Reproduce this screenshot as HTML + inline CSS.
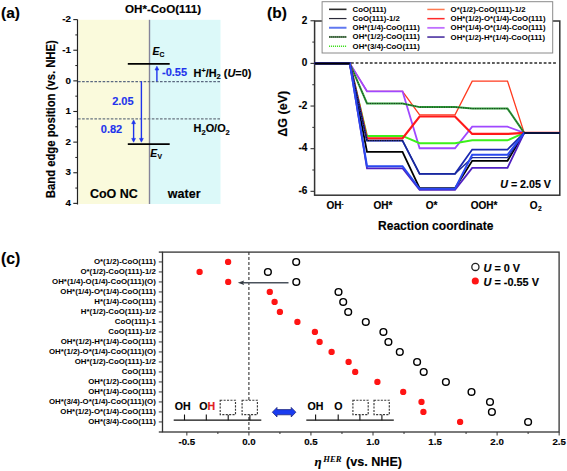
<!DOCTYPE html>
<html><head><meta charset="utf-8"><style>
html,body{margin:0;padding:0;background:#fff;width:567px;height:471px;overflow:hidden}
svg{display:block}
text{stroke-width:0.15px}
</style></head><body>
<svg width="567" height="471" viewBox="0 0 567 471">
<text stroke="#000" x="1.00" y="17.60" font-size="15.5" text-anchor="start" font-weight="bold" fill="#000" font-family='"Liberation Sans", sans-serif'  >(a)</text>
<text stroke="#000" x="163.00" y="12.80" font-size="11.6" text-anchor="middle" font-weight="bold" fill="#000" font-family='"Liberation Sans", sans-serif'  >OH*-CoO(111)</text>
<rect x="78.50" y="19.80" width="70.80" height="184.20" fill="#fafadc" stroke="none" stroke-width="1" />
<rect x="149.30" y="19.80" width="71.20" height="184.20" fill="#dcf9f9" stroke="none" stroke-width="1" />
<line x1="149.50" y1="19.80" x2="149.50" y2="204.00" stroke="#84849a" stroke-width="1.4" />
<line x1="77.50" y1="19.50" x2="77.50" y2="204.50" stroke="#222" stroke-width="1.2" />
<line x1="73.30" y1="19.60" x2="77.50" y2="19.60" stroke="#222" stroke-width="1.1" />
<text stroke="#000" x="71.00" y="22.30" font-size="9.8" text-anchor="end" font-weight="bold" fill="#000" font-family='"Liberation Sans", sans-serif'  >-2</text>
<line x1="75.30" y1="34.91" x2="77.50" y2="34.91" stroke="#222" stroke-width="1" />
<line x1="73.30" y1="50.23" x2="77.50" y2="50.23" stroke="#222" stroke-width="1.1" />
<text stroke="#000" x="71.00" y="52.93" font-size="9.8" text-anchor="end" font-weight="bold" fill="#000" font-family='"Liberation Sans", sans-serif'  >-1</text>
<line x1="75.30" y1="65.55" x2="77.50" y2="65.55" stroke="#222" stroke-width="1" />
<line x1="73.30" y1="80.86" x2="77.50" y2="80.86" stroke="#222" stroke-width="1.1" />
<text stroke="#000" x="71.00" y="83.56" font-size="9.8" text-anchor="end" font-weight="bold" fill="#000" font-family='"Liberation Sans", sans-serif'  >0</text>
<line x1="75.30" y1="96.17" x2="77.50" y2="96.17" stroke="#222" stroke-width="1" />
<line x1="73.30" y1="111.49" x2="77.50" y2="111.49" stroke="#222" stroke-width="1.1" />
<text stroke="#000" x="71.00" y="114.19" font-size="9.8" text-anchor="end" font-weight="bold" fill="#000" font-family='"Liberation Sans", sans-serif'  >1</text>
<line x1="75.30" y1="126.81" x2="77.50" y2="126.81" stroke="#222" stroke-width="1" />
<line x1="73.30" y1="142.12" x2="77.50" y2="142.12" stroke="#222" stroke-width="1.1" />
<text stroke="#000" x="71.00" y="144.82" font-size="9.8" text-anchor="end" font-weight="bold" fill="#000" font-family='"Liberation Sans", sans-serif'  >2</text>
<line x1="75.30" y1="157.44" x2="77.50" y2="157.44" stroke="#222" stroke-width="1" />
<line x1="73.30" y1="172.75" x2="77.50" y2="172.75" stroke="#222" stroke-width="1.1" />
<text stroke="#000" x="71.00" y="175.45" font-size="9.8" text-anchor="end" font-weight="bold" fill="#000" font-family='"Liberation Sans", sans-serif'  >3</text>
<line x1="75.30" y1="188.06" x2="77.50" y2="188.06" stroke="#222" stroke-width="1" />
<line x1="73.30" y1="203.38" x2="77.50" y2="203.38" stroke="#222" stroke-width="1.1" />
<text stroke="#000" x="71.00" y="206.08" font-size="9.8" text-anchor="end" font-weight="bold" fill="#000" font-family='"Liberation Sans", sans-serif'  >4</text>
<text stroke="#000" transform="translate(55.3,119.2) rotate(-90) scale(1,1.06)" x="0" y="0" font-size="11.3" text-anchor="middle" font-weight="bold" font-family='"Liberation Sans", sans-serif'>Band edge position (vs. NHE)</text>
<line x1="78.00" y1="81.60" x2="220.50" y2="81.60" stroke="#5a6880" stroke-width="1.4" stroke-dasharray="2.6,1.5"/>
<line x1="78.00" y1="118.90" x2="220.50" y2="118.90" stroke="#687480" stroke-width="1.4" stroke-dasharray="2.6,1.5"/>
<line x1="127.80" y1="63.90" x2="169.70" y2="63.90" stroke="#000" stroke-width="1.8" />
<line x1="127.80" y1="144.10" x2="169.70" y2="144.10" stroke="#000" stroke-width="1.8" />
<text stroke="#000" x="152.4" y="54.6" font-size="10.3" font-weight="bold" font-family='"Liberation Sans", sans-serif' font-style="italic">E<tspan font-size="6.8" font-style="normal" dy="2.2" dx="0.2">C</tspan></text>
<text stroke="#000" x="150.3" y="157.0" font-size="10.3" font-weight="bold" font-family='"Liberation Sans", sans-serif' font-style="italic">E<tspan font-size="6.8" font-style="normal" dy="2.2" dx="0.2">V</tspan></text>
<line x1="156.90" y1="81.30" x2="156.90" y2="68.00" stroke="#1e34ec" stroke-width="1.4" />
<path d="M155.00,70.00 L156.90,66.20 L158.80,70.00 Z" fill="#1e34ec" stroke="#1e34ec" stroke-width="0.6"/>
<line x1="141.40" y1="81.30" x2="141.40" y2="140.00" stroke="#1e34ec" stroke-width="1.4" />
<path d="M139.50,138.40 L141.40,142.20 L143.30,138.40 Z" fill="#1e34ec" stroke="#1e34ec" stroke-width="0.6"/>
<line x1="133.60" y1="122.00" x2="133.60" y2="140.00" stroke="#1e34ec" stroke-width="1.4" />
<path d="M131.70,123.70 L133.60,119.90 L135.50,123.70 Z" fill="#1e34ec" stroke="#1e34ec" stroke-width="0.6"/>
<path d="M131.70,138.40 L133.60,142.20 L135.50,138.40 Z" fill="#1e34ec" stroke="#1e34ec" stroke-width="0.6"/>
<text stroke="#1e34ec" x="162.00" y="76.00" font-size="11" text-anchor="start" font-weight="bold" fill="#1e34ec" font-family='"Liberation Sans", sans-serif'  >-0.55</text>
<text stroke="#1e34ec" x="112.20" y="105.20" font-size="11" text-anchor="start" font-weight="bold" fill="#1e34ec" font-family='"Liberation Sans", sans-serif'  >2.05</text>
<text stroke="#1e34ec" x="100.80" y="133.20" font-size="11" text-anchor="start" font-weight="bold" fill="#1e34ec" font-family='"Liberation Sans", sans-serif'  >0.82</text>
<text stroke="#000" x="193.6" y="76.6" font-size="10.9" font-family='"Liberation Sans", sans-serif' font-weight="bold">H<tspan font-size="7.2" dy="-4">+</tspan><tspan dy="4">/H</tspan><tspan font-size="7.5" dy="2.8">2</tspan><tspan dy="-2.8"> (</tspan><tspan font-style="italic">U</tspan>=0)</text>
<text stroke="#000" x="193.6" y="131.9" font-size="10.9" font-family='"Liberation Sans", sans-serif' font-weight="bold">H<tspan font-size="7.5" dy="2.8">2</tspan><tspan dy="-2.8">O/O</tspan><tspan font-size="7.5" dy="2.8">2</tspan></text>
<text stroke="#000" x="113.90" y="197.60" font-size="12.5" text-anchor="middle" font-weight="bold" fill="#000" font-family='"Liberation Sans", sans-serif'  >CoO NC</text>
<text stroke="#000" x="184.20" y="197.60" font-size="12.5" text-anchor="middle" font-weight="bold" fill="#000" font-family='"Liberation Sans", sans-serif'  >water</text>
<text stroke="#000" x="267.00" y="17.80" font-size="15.5" text-anchor="start" font-weight="bold" fill="#000" font-family='"Liberation Sans", sans-serif'  >(b)</text>
<rect x="314.60" y="21.00" width="245.20" height="174.20" fill="none" stroke="#333" stroke-width="1.5" />
<line x1="310.50" y1="20.76" x2="314.60" y2="20.76" stroke="#333" stroke-width="1.1" />
<text stroke="#000" x="307.40" y="23.56" font-size="10" text-anchor="end" font-weight="bold" fill="#000" font-family='"Liberation Sans", sans-serif'  >2</text>
<line x1="310.50" y1="63.40" x2="314.60" y2="63.40" stroke="#333" stroke-width="1.1" />
<text stroke="#000" x="307.40" y="66.20" font-size="10" text-anchor="end" font-weight="bold" fill="#000" font-family='"Liberation Sans", sans-serif'  >0</text>
<line x1="310.50" y1="106.04" x2="314.60" y2="106.04" stroke="#333" stroke-width="1.1" />
<text stroke="#000" x="307.40" y="108.84" font-size="10" text-anchor="end" font-weight="bold" fill="#000" font-family='"Liberation Sans", sans-serif'  >-2</text>
<line x1="310.50" y1="148.68" x2="314.60" y2="148.68" stroke="#333" stroke-width="1.1" />
<text stroke="#000" x="307.40" y="151.48" font-size="10" text-anchor="end" font-weight="bold" fill="#000" font-family='"Liberation Sans", sans-serif'  >-4</text>
<line x1="310.50" y1="191.32" x2="314.60" y2="191.32" stroke="#333" stroke-width="1.1" />
<text stroke="#000" x="307.40" y="194.12" font-size="10" text-anchor="end" font-weight="bold" fill="#000" font-family='"Liberation Sans", sans-serif'  >-6</text>
<line x1="312.30" y1="42.08" x2="314.60" y2="42.08" stroke="#333" stroke-width="1" />
<line x1="312.30" y1="84.72" x2="314.60" y2="84.72" stroke="#333" stroke-width="1" />
<line x1="312.30" y1="127.36" x2="314.60" y2="127.36" stroke="#333" stroke-width="1" />
<line x1="312.30" y1="170.00" x2="314.60" y2="170.00" stroke="#333" stroke-width="1" />
<text stroke="#000" transform="translate(286.5,113.8) rotate(-90)" x="0" y="0" font-size="12.6" text-anchor="middle" font-weight="bold" font-family='"Liberation Sans", sans-serif'>ΔG (eV)</text>
<line x1="351.00" y1="62.90" x2="556.80" y2="62.90" stroke="#2a2a2a" stroke-width="1.5" stroke-dasharray="2.8,1.9"/>
<polyline points="314.60,63.40 349.80,63.40 367.00,91.33 402.50,91.33 419.60,114.78 455.00,114.78 472.20,81.10 507.50,81.10 524.20,132.90 559.80,132.90" fill="none" stroke="#ff3a1e" stroke-width="1.3" stroke-linejoin="miter" />
<polyline points="314.60,63.40 349.80,63.40 367.00,91.33 402.50,91.33 419.60,148.25 455.00,148.25 472.20,126.72 507.50,126.72 524.20,132.90 559.80,132.90" fill="none" stroke="#a048ff" stroke-width="1.8" stroke-linejoin="miter" />
<polyline points="314.60,63.40 349.80,63.40 367.00,103.48 402.50,103.48 419.60,107.11 455.00,107.11 472.20,108.60 507.50,108.60 524.20,132.90 559.80,132.90" fill="none" stroke="#2ea03a" stroke-width="2.0" stroke-linejoin="miter" />
<polyline points="314.60,63.40 349.80,63.40 367.00,103.48 402.50,103.48 419.60,107.11 455.00,107.11 472.20,108.60 507.50,108.60 524.20,132.90 559.80,132.90" fill="none" stroke="#1a2a1a" stroke-width="0.9" stroke-linejoin="miter" stroke-dasharray="1.2,1.2"/>
<polyline points="314.60,63.40 349.80,63.40 367.00,135.89 402.50,135.89 419.60,143.14 455.00,143.14 472.20,140.37 507.50,140.37 524.20,132.90 559.80,132.90" fill="none" stroke="#3cf01a" stroke-width="2.0" stroke-linejoin="miter" />
<polyline points="314.60,63.40 349.80,63.40 367.00,138.45 402.50,138.45 419.60,116.49 455.00,116.49 472.20,133.97 507.50,133.97 524.20,132.90 559.80,132.90" fill="none" stroke="#ff1a1a" stroke-width="2.2" stroke-linejoin="miter" />
<polyline points="314.60,63.40 349.80,63.40 367.00,151.88 402.50,151.88 419.60,188.12 455.00,188.12 472.20,160.83 507.50,160.83 524.20,132.90 559.80,132.90" fill="none" stroke="#000000" stroke-width="1.8" stroke-linejoin="miter" />
<polyline points="314.60,63.40 349.80,63.40 367.00,140.58 402.50,140.58 419.60,173.84 455.00,173.84 472.20,149.53 507.50,149.53 524.20,132.90 559.80,132.90" fill="none" stroke="#1a28b0" stroke-width="1.8" stroke-linejoin="miter" />
<polyline points="314.60,63.40 349.80,63.40 367.00,140.58 402.50,140.58 419.60,173.84 455.00,173.84 472.20,157.63 507.50,157.63 524.20,132.90 559.80,132.90" fill="none" stroke="#1a2a9a" stroke-width="1.4" stroke-linejoin="miter" />
<polyline points="314.60,63.40 349.80,63.40 367.00,140.58 402.50,140.58" fill="none" stroke="#111111" stroke-width="1.0" stroke-linejoin="miter" stroke-dasharray="1.2,1.2"/>
<polyline points="314.60,63.40 349.80,63.40 367.00,168.29 402.50,168.29 419.60,189.83 455.00,189.83 472.20,167.87 507.50,167.87 524.20,132.90 559.80,132.90" fill="none" stroke="#5020c0" stroke-width="1.8" stroke-linejoin="miter" />
<polyline points="314.60,63.40 349.80,63.40 367.00,166.16 402.50,166.16 419.60,188.76 455.00,188.76 472.20,154.86 507.50,154.86 524.20,132.90 559.80,132.90" fill="none" stroke="#2a48f0" stroke-width="2.0" stroke-linejoin="miter" />
<line x1="314.60" y1="63.40" x2="349.80" y2="63.40" stroke="#000" stroke-width="2" />
<line x1="524.20" y1="132.90" x2="559.80" y2="132.90" stroke="#000" stroke-width="1.5" />
<rect x="322.10" y="1.70" width="230.60" height="51.30" fill="#fff" stroke="#8a8a8a" stroke-width="1" />
<line x1="329.00" y1="9.35" x2="346.50" y2="9.35" stroke="#2a2a2a" stroke-width="1.6" />
<text x="352.60" y="11.85" font-size="7.8" text-anchor="start" font-weight="bold" fill="#000" font-family='"Liberation Sans", sans-serif'  >CoO(111)</text>
<line x1="329.00" y1="18.55" x2="346.50" y2="18.55" stroke="#2a2a3a" stroke-width="1.2" />
<text x="352.60" y="21.05" font-size="7.8" text-anchor="start" font-weight="bold" fill="#000" font-family='"Liberation Sans", sans-serif'  >CoO(111)-1/2</text>
<line x1="329.00" y1="27.75" x2="346.50" y2="27.75" stroke="#6078f0" stroke-width="2.0" />
<text x="352.60" y="30.25" font-size="7.8" text-anchor="start" font-weight="bold" fill="#000" font-family='"Liberation Sans", sans-serif'  >OH*(1/4)-CoO(111)</text>
<line x1="329.00" y1="36.95" x2="346.50" y2="36.95" stroke="#5e8a5e" stroke-width="2.0" />
<line x1="329.00" y1="36.95" x2="346.50" y2="36.95" stroke="#2a3a2a" stroke-width="1.0" stroke-dasharray="1,1"/>
<text x="352.60" y="39.45" font-size="7.8" text-anchor="start" font-weight="bold" fill="#000" font-family='"Liberation Sans", sans-serif'  >OH*(1/2)-CoO(111)</text>
<line x1="329.00" y1="46.15" x2="346.50" y2="46.15" stroke="#40e020" stroke-width="1.5" stroke-dasharray="1.1,0.9"/>
<text x="352.60" y="48.65" font-size="7.8" text-anchor="start" font-weight="bold" fill="#000" font-family='"Liberation Sans", sans-serif'  >OH*(3/4)-CoO(111)</text>
<line x1="427.30" y1="9.45" x2="444.60" y2="9.45" stroke="#ff7a50" stroke-width="1.5" />
<text x="450.60" y="11.95" font-size="7.8" text-anchor="start" font-weight="bold" fill="#000" font-family='"Liberation Sans", sans-serif'  >O*(1/2)-CoO(111)-1/2</text>
<line x1="427.30" y1="18.65" x2="444.60" y2="18.65" stroke="#ff2a2a" stroke-width="1.5" />
<text x="450.60" y="21.15" font-size="7.8" text-anchor="start" font-weight="bold" fill="#000" font-family='"Liberation Sans", sans-serif'  >OH*(1/2)-O*(1/4)-CoO(111)</text>
<line x1="427.30" y1="27.85" x2="444.60" y2="27.85" stroke="#c070ff" stroke-width="1.8" />
<text x="450.60" y="30.35" font-size="7.8" text-anchor="start" font-weight="bold" fill="#000" font-family='"Liberation Sans", sans-serif'  >OH*(1/4)-O*(1/4)-CoO(111)</text>
<line x1="427.30" y1="37.05" x2="444.60" y2="37.05" stroke="#4a30a0" stroke-width="1.6" />
<text x="450.60" y="39.55" font-size="7.8" text-anchor="start" font-weight="bold" fill="#000" font-family='"Liberation Sans", sans-serif'  >OH*(1/2)-H*(1/4)-CoO(111)</text>
<text stroke="#000" x="500.2" y="187.6" font-size="10.7" font-weight="bold" font-family='"Liberation Sans", sans-serif'><tspan font-style="italic">U</tspan> = 2.05 V</text>
<text stroke="#000" x="335" y="209.3" font-size="10" text-anchor="middle" font-weight="bold" font-family='"Liberation Sans", sans-serif'>OH<tspan font-size="6" dy="-3">-</tspan></text>
<text stroke="#000" x="383" y="209.3" font-size="10" text-anchor="middle" font-weight="bold" font-family='"Liberation Sans", sans-serif'>OH*</text>
<text stroke="#000" x="431.6" y="209.3" font-size="10" text-anchor="middle" font-weight="bold" font-family='"Liberation Sans", sans-serif'>O*</text>
<text stroke="#000" x="484" y="209.3" font-size="10" text-anchor="middle" font-weight="bold" font-family='"Liberation Sans", sans-serif'>OOH*</text>
<text stroke="#000" x="535.8" y="209.3" font-size="10" text-anchor="middle" font-weight="bold" font-family='"Liberation Sans", sans-serif'>O<tspan font-size="6.6" dy="2.0" dx="0.4">2</tspan></text>
<text stroke="#000" x="435.80" y="230.00" font-size="12" text-anchor="middle" font-weight="bold" fill="#000" font-family='"Liberation Sans", sans-serif'  >Reaction coordinate</text>
<text stroke="#000" x="1.00" y="263.80" font-size="15.8" text-anchor="start" font-weight="bold" fill="#000" font-family='"Liberation Sans", sans-serif'  >(c)</text>
<rect x="162.50" y="252.10" width="396.60" height="179.90" fill="none" stroke="#333" stroke-width="1.3" />
<line x1="158.80" y1="252.10" x2="162.50" y2="252.10" stroke="#333" stroke-width="1.3" />
<line x1="158.80" y1="432.00" x2="162.50" y2="432.00" stroke="#333" stroke-width="1.3" />
<line x1="158.80" y1="261.95" x2="162.50" y2="261.95" stroke="#333" stroke-width="1" />
<text x="155.80" y="264.15" font-size="7.85" text-anchor="end" font-weight="bold" fill="#000" font-family='"Liberation Sans", sans-serif'  >O*(1/2)-CoO(111)</text>
<line x1="158.80" y1="271.95" x2="162.50" y2="271.95" stroke="#333" stroke-width="1" />
<text x="155.80" y="274.15" font-size="7.85" text-anchor="end" font-weight="bold" fill="#000" font-family='"Liberation Sans", sans-serif'  >O*(1/2)-CoO(111)-1/2</text>
<line x1="158.80" y1="281.95" x2="162.50" y2="281.95" stroke="#333" stroke-width="1" />
<text x="155.80" y="284.15" font-size="7.85" text-anchor="end" font-weight="bold" fill="#000" font-family='"Liberation Sans", sans-serif'  >OH*(1/4)-O(1/4)-CoO(111)(O)</text>
<line x1="158.80" y1="291.95" x2="162.50" y2="291.95" stroke="#333" stroke-width="1" />
<text x="155.80" y="294.15" font-size="7.85" text-anchor="end" font-weight="bold" fill="#000" font-family='"Liberation Sans", sans-serif'  >OH*(1/4)-O*(1/4)-CoO(111)</text>
<line x1="158.80" y1="301.95" x2="162.50" y2="301.95" stroke="#333" stroke-width="1" />
<text x="155.80" y="304.15" font-size="7.85" text-anchor="end" font-weight="bold" fill="#000" font-family='"Liberation Sans", sans-serif'  >H*(1/4)-CoO(111)</text>
<line x1="158.80" y1="311.95" x2="162.50" y2="311.95" stroke="#333" stroke-width="1" />
<text x="155.80" y="314.15" font-size="7.85" text-anchor="end" font-weight="bold" fill="#000" font-family='"Liberation Sans", sans-serif'  >H*(1/2)-CoO(111)-1/2</text>
<line x1="158.80" y1="321.95" x2="162.50" y2="321.95" stroke="#333" stroke-width="1" />
<text x="155.80" y="324.15" font-size="7.85" text-anchor="end" font-weight="bold" fill="#000" font-family='"Liberation Sans", sans-serif'  >CoO(111)-1</text>
<line x1="158.80" y1="331.95" x2="162.50" y2="331.95" stroke="#333" stroke-width="1" />
<text x="155.80" y="334.15" font-size="7.85" text-anchor="end" font-weight="bold" fill="#000" font-family='"Liberation Sans", sans-serif'  >CoO(111)-1/2</text>
<line x1="158.80" y1="341.95" x2="162.50" y2="341.95" stroke="#333" stroke-width="1" />
<text x="155.80" y="344.15" font-size="7.85" text-anchor="end" font-weight="bold" fill="#000" font-family='"Liberation Sans", sans-serif'  >OH*(1/2)-H*(1/4)-CoO(111)</text>
<line x1="158.80" y1="351.95" x2="162.50" y2="351.95" stroke="#333" stroke-width="1" />
<text x="155.80" y="354.15" font-size="7.85" text-anchor="end" font-weight="bold" fill="#000" font-family='"Liberation Sans", sans-serif'  >OH*(1/2)-O*(1/4)-CoO(111)(O)</text>
<line x1="158.80" y1="361.95" x2="162.50" y2="361.95" stroke="#333" stroke-width="1" />
<text x="155.80" y="364.15" font-size="7.85" text-anchor="end" font-weight="bold" fill="#000" font-family='"Liberation Sans", sans-serif'  >OH*(1/2)-CoO(111)-1/2</text>
<line x1="158.80" y1="371.95" x2="162.50" y2="371.95" stroke="#333" stroke-width="1" />
<text x="155.80" y="374.15" font-size="7.85" text-anchor="end" font-weight="bold" fill="#000" font-family='"Liberation Sans", sans-serif'  >CoO(111)</text>
<line x1="158.80" y1="381.95" x2="162.50" y2="381.95" stroke="#333" stroke-width="1" />
<text x="155.80" y="384.15" font-size="7.85" text-anchor="end" font-weight="bold" fill="#000" font-family='"Liberation Sans", sans-serif'  >OH*(1/2)-CoO(111)</text>
<line x1="158.80" y1="391.95" x2="162.50" y2="391.95" stroke="#333" stroke-width="1" />
<text x="155.80" y="394.15" font-size="7.85" text-anchor="end" font-weight="bold" fill="#000" font-family='"Liberation Sans", sans-serif'  >OH*(1/4)-CoO(111)</text>
<line x1="158.80" y1="401.95" x2="162.50" y2="401.95" stroke="#333" stroke-width="1" />
<text x="155.80" y="404.15" font-size="7.85" text-anchor="end" font-weight="bold" fill="#000" font-family='"Liberation Sans", sans-serif'  >OH*(3/4)-O*(1/4)-CoO(111)(O)</text>
<line x1="158.80" y1="411.95" x2="162.50" y2="411.95" stroke="#333" stroke-width="1" />
<text x="155.80" y="414.15" font-size="7.85" text-anchor="end" font-weight="bold" fill="#000" font-family='"Liberation Sans", sans-serif'  >OH*(1/2)-O*(1/4)-CoO(111)</text>
<line x1="158.80" y1="421.95" x2="162.50" y2="421.95" stroke="#333" stroke-width="1" />
<text x="155.80" y="424.15" font-size="7.85" text-anchor="end" font-weight="bold" fill="#000" font-family='"Liberation Sans", sans-serif'  >OH*(3/4)-CoO(111)</text>
<line x1="186.85" y1="432.00" x2="186.85" y2="435.50" stroke="#333" stroke-width="1" />
<text stroke="#000" x="186.85" y="444.90" font-size="9.7" text-anchor="middle" font-weight="bold" fill="#000" font-family='"Liberation Sans", sans-serif'  >-0.5</text>
<line x1="217.88" y1="432.00" x2="217.88" y2="434.00" stroke="#333" stroke-width="1" />
<line x1="248.90" y1="432.00" x2="248.90" y2="435.50" stroke="#333" stroke-width="1" />
<text stroke="#000" x="248.90" y="444.90" font-size="9.7" text-anchor="middle" font-weight="bold" fill="#000" font-family='"Liberation Sans", sans-serif'  >0.0</text>
<line x1="279.93" y1="432.00" x2="279.93" y2="434.00" stroke="#333" stroke-width="1" />
<line x1="310.95" y1="432.00" x2="310.95" y2="435.50" stroke="#333" stroke-width="1" />
<text stroke="#000" x="310.95" y="444.90" font-size="9.7" text-anchor="middle" font-weight="bold" fill="#000" font-family='"Liberation Sans", sans-serif'  >0.5</text>
<line x1="341.98" y1="432.00" x2="341.98" y2="434.00" stroke="#333" stroke-width="1" />
<line x1="373.00" y1="432.00" x2="373.00" y2="435.50" stroke="#333" stroke-width="1" />
<text stroke="#000" x="373.00" y="444.90" font-size="9.7" text-anchor="middle" font-weight="bold" fill="#000" font-family='"Liberation Sans", sans-serif'  >1.0</text>
<line x1="404.02" y1="432.00" x2="404.02" y2="434.00" stroke="#333" stroke-width="1" />
<line x1="435.05" y1="432.00" x2="435.05" y2="435.50" stroke="#333" stroke-width="1" />
<text stroke="#000" x="435.05" y="444.90" font-size="9.7" text-anchor="middle" font-weight="bold" fill="#000" font-family='"Liberation Sans", sans-serif'  >1.5</text>
<line x1="466.07" y1="432.00" x2="466.07" y2="434.00" stroke="#333" stroke-width="1" />
<line x1="497.10" y1="432.00" x2="497.10" y2="435.50" stroke="#333" stroke-width="1" />
<text stroke="#000" x="497.10" y="444.90" font-size="9.7" text-anchor="middle" font-weight="bold" fill="#000" font-family='"Liberation Sans", sans-serif'  >2.0</text>
<line x1="528.12" y1="432.00" x2="528.12" y2="434.00" stroke="#333" stroke-width="1" />
<line x1="559.15" y1="432.00" x2="559.15" y2="435.50" stroke="#333" stroke-width="1" />
<text stroke="#000" x="559.15" y="444.90" font-size="9.7" text-anchor="middle" font-weight="bold" fill="#000" font-family='"Liberation Sans", sans-serif'  >2.5</text>
<line x1="248.90" y1="252.10" x2="248.90" y2="432.00" stroke="#333" stroke-width="1.1" stroke-dasharray="3,2"/>
<circle cx="228.10" cy="261.95" r="3.15" fill="#ff1414"/>
<circle cx="199.60" cy="271.95" r="3.15" fill="#ff1414"/>
<circle cx="228.20" cy="281.95" r="3.15" fill="#ff1414"/>
<circle cx="269.80" cy="291.95" r="3.15" fill="#ff1414"/>
<circle cx="274.60" cy="301.95" r="3.15" fill="#ff1414"/>
<circle cx="279.90" cy="311.95" r="3.15" fill="#ff1414"/>
<circle cx="297.40" cy="321.95" r="3.15" fill="#ff1414"/>
<circle cx="314.90" cy="331.95" r="3.15" fill="#ff1414"/>
<circle cx="319.60" cy="341.95" r="3.15" fill="#ff1414"/>
<circle cx="331.60" cy="351.95" r="3.15" fill="#ff1414"/>
<circle cx="348.60" cy="361.95" r="3.15" fill="#ff1414"/>
<circle cx="355.20" cy="371.95" r="3.15" fill="#ff1414"/>
<circle cx="377.40" cy="381.95" r="3.15" fill="#ff1414"/>
<circle cx="403.20" cy="391.95" r="3.15" fill="#ff1414"/>
<circle cx="421.50" cy="401.95" r="3.15" fill="#ff1414"/>
<circle cx="423.40" cy="411.95" r="3.15" fill="#ff1414"/>
<circle cx="460.10" cy="421.95" r="3.15" fill="#ff1414"/>
<circle cx="296.20" cy="261.95" r="3.35" fill="#fff" stroke="#000" stroke-width="1.45"/>
<circle cx="267.90" cy="271.95" r="3.35" fill="#fff" stroke="#000" stroke-width="1.45"/>
<circle cx="296.30" cy="281.95" r="3.35" fill="#fff" stroke="#000" stroke-width="1.45"/>
<circle cx="338.50" cy="291.95" r="3.35" fill="#fff" stroke="#000" stroke-width="1.45"/>
<circle cx="343.20" cy="301.95" r="3.35" fill="#fff" stroke="#000" stroke-width="1.45"/>
<circle cx="348.20" cy="311.95" r="3.35" fill="#fff" stroke="#000" stroke-width="1.45"/>
<circle cx="365.80" cy="321.95" r="3.35" fill="#fff" stroke="#000" stroke-width="1.45"/>
<circle cx="383.40" cy="331.95" r="3.35" fill="#fff" stroke="#000" stroke-width="1.45"/>
<circle cx="388.40" cy="341.95" r="3.35" fill="#fff" stroke="#000" stroke-width="1.45"/>
<circle cx="399.80" cy="351.95" r="3.35" fill="#fff" stroke="#000" stroke-width="1.45"/>
<circle cx="417.10" cy="361.95" r="3.35" fill="#fff" stroke="#000" stroke-width="1.45"/>
<circle cx="423.70" cy="371.95" r="3.35" fill="#fff" stroke="#000" stroke-width="1.45"/>
<circle cx="445.90" cy="381.95" r="3.35" fill="#fff" stroke="#000" stroke-width="1.45"/>
<circle cx="471.50" cy="391.95" r="3.35" fill="#fff" stroke="#000" stroke-width="1.45"/>
<circle cx="490.00" cy="401.95" r="3.35" fill="#fff" stroke="#000" stroke-width="1.45"/>
<circle cx="491.90" cy="411.95" r="3.35" fill="#fff" stroke="#000" stroke-width="1.45"/>
<circle cx="528.10" cy="421.95" r="3.35" fill="#fff" stroke="#000" stroke-width="1.45"/>
<line x1="288.50" y1="282.80" x2="242.00" y2="282.80" stroke="#4a525c" stroke-width="1.4" />
<path d="M237.8,282.8 L244.2,280.6 L243,282.8 L244.2,285.0 Z" fill="#333a42"/>
<circle cx="475.4" cy="266.9" r="3.6" fill="#fff" stroke="#222" stroke-width="1.3"/>
<circle cx="475.3" cy="281.0" r="3.55" fill="#ff1414"/>
<text stroke="#000" x="483.5" y="271.8" font-size="10.9" font-weight="bold" font-family='"Liberation Sans", sans-serif'><tspan font-style="italic">U</tspan> = 0 V</text>
<text stroke="#000" x="483.5" y="285.9" font-size="10.9" font-weight="bold" font-family='"Liberation Sans", sans-serif'><tspan font-style="italic">U</tspan> = -0.55 V</text>
<line x1="173.70" y1="420.20" x2="261.30" y2="420.20" stroke="#111" stroke-width="1.3" />
<line x1="184.50" y1="414.50" x2="184.50" y2="420.20" stroke="#111" stroke-width="1.1" />
<line x1="206.30" y1="414.50" x2="206.30" y2="420.20" stroke="#111" stroke-width="1.1" />
<line x1="228.20" y1="414.50" x2="228.20" y2="420.20" stroke="#111" stroke-width="1.1" />
<line x1="249.90" y1="414.50" x2="249.90" y2="420.20" stroke="#111" stroke-width="1.1" />
<text stroke="#000" x="182.80" y="409.90" font-size="10.6" text-anchor="middle" font-weight="bold" fill="#000" font-family='"Liberation Sans", sans-serif'  >OH</text>
<text stroke="#000" x="207.3" y="409.9" font-size="10.6" text-anchor="middle" font-weight="bold" font-family='"Liberation Sans", sans-serif'>O<tspan fill="#e02020" stroke="#e02020">H</tspan></text>
<rect x="220.20" y="400.20" width="15.30" height="14.40" fill="#fff" stroke="#3a3a3a" stroke-width="1.15" stroke-dasharray="2.1,1.3"/>
<rect x="242.10" y="400.20" width="15.30" height="14.40" fill="#fff" stroke="#3a3a3a" stroke-width="1.15" stroke-dasharray="2.1,1.3"/>
<line x1="306.30" y1="420.20" x2="393.80" y2="420.20" stroke="#111" stroke-width="1.3" />
<line x1="315.60" y1="414.50" x2="315.60" y2="420.20" stroke="#111" stroke-width="1.1" />
<line x1="338.20" y1="414.50" x2="338.20" y2="420.20" stroke="#111" stroke-width="1.1" />
<line x1="359.90" y1="414.50" x2="359.90" y2="420.20" stroke="#111" stroke-width="1.1" />
<line x1="381.90" y1="414.50" x2="381.90" y2="420.20" stroke="#111" stroke-width="1.1" />
<text stroke="#000" x="315.40" y="409.90" font-size="10.6" text-anchor="middle" font-weight="bold" fill="#000" font-family='"Liberation Sans", sans-serif'  >OH</text>
<text stroke="#000" x="338.30" y="409.90" font-size="10.6" text-anchor="middle" font-weight="bold" fill="#000" font-family='"Liberation Sans", sans-serif'  >O</text>
<rect x="352.90" y="400.20" width="15.30" height="14.40" fill="#fff" stroke="#3a3a3a" stroke-width="1.15" stroke-dasharray="2.1,1.3"/>
<rect x="374.00" y="400.20" width="15.30" height="14.40" fill="#fff" stroke="#3a3a3a" stroke-width="1.15" stroke-dasharray="2.1,1.3"/>
<path d="M272.3,412.2 L277.0,407.4 L277.0,409.6 L291.2,409.6 L291.2,407.4 L295.9,412.2 L291.2,417.0 L291.2,414.8 L277.0,414.8 L277.0,417.0 Z" fill="#1a3cf0" stroke="#141a70" stroke-width="0.7"/>
<text stroke="#000" x="314.5" y="465.6" font-size="13" font-family="'Liberation Serif', serif" font-style="italic" font-weight="bold">η</text>
<text x="323.3" y="461.5" font-size="8.6" font-family="'Liberation Serif', serif" font-style="italic" font-weight="bold">HER</text>
<text stroke="#000" x="346.00" y="466.30" font-size="12.6" text-anchor="start" font-weight="bold" fill="#000" font-family='"Liberation Sans", sans-serif'  >(vs. NHE)</text>
</svg>
</body></html>
